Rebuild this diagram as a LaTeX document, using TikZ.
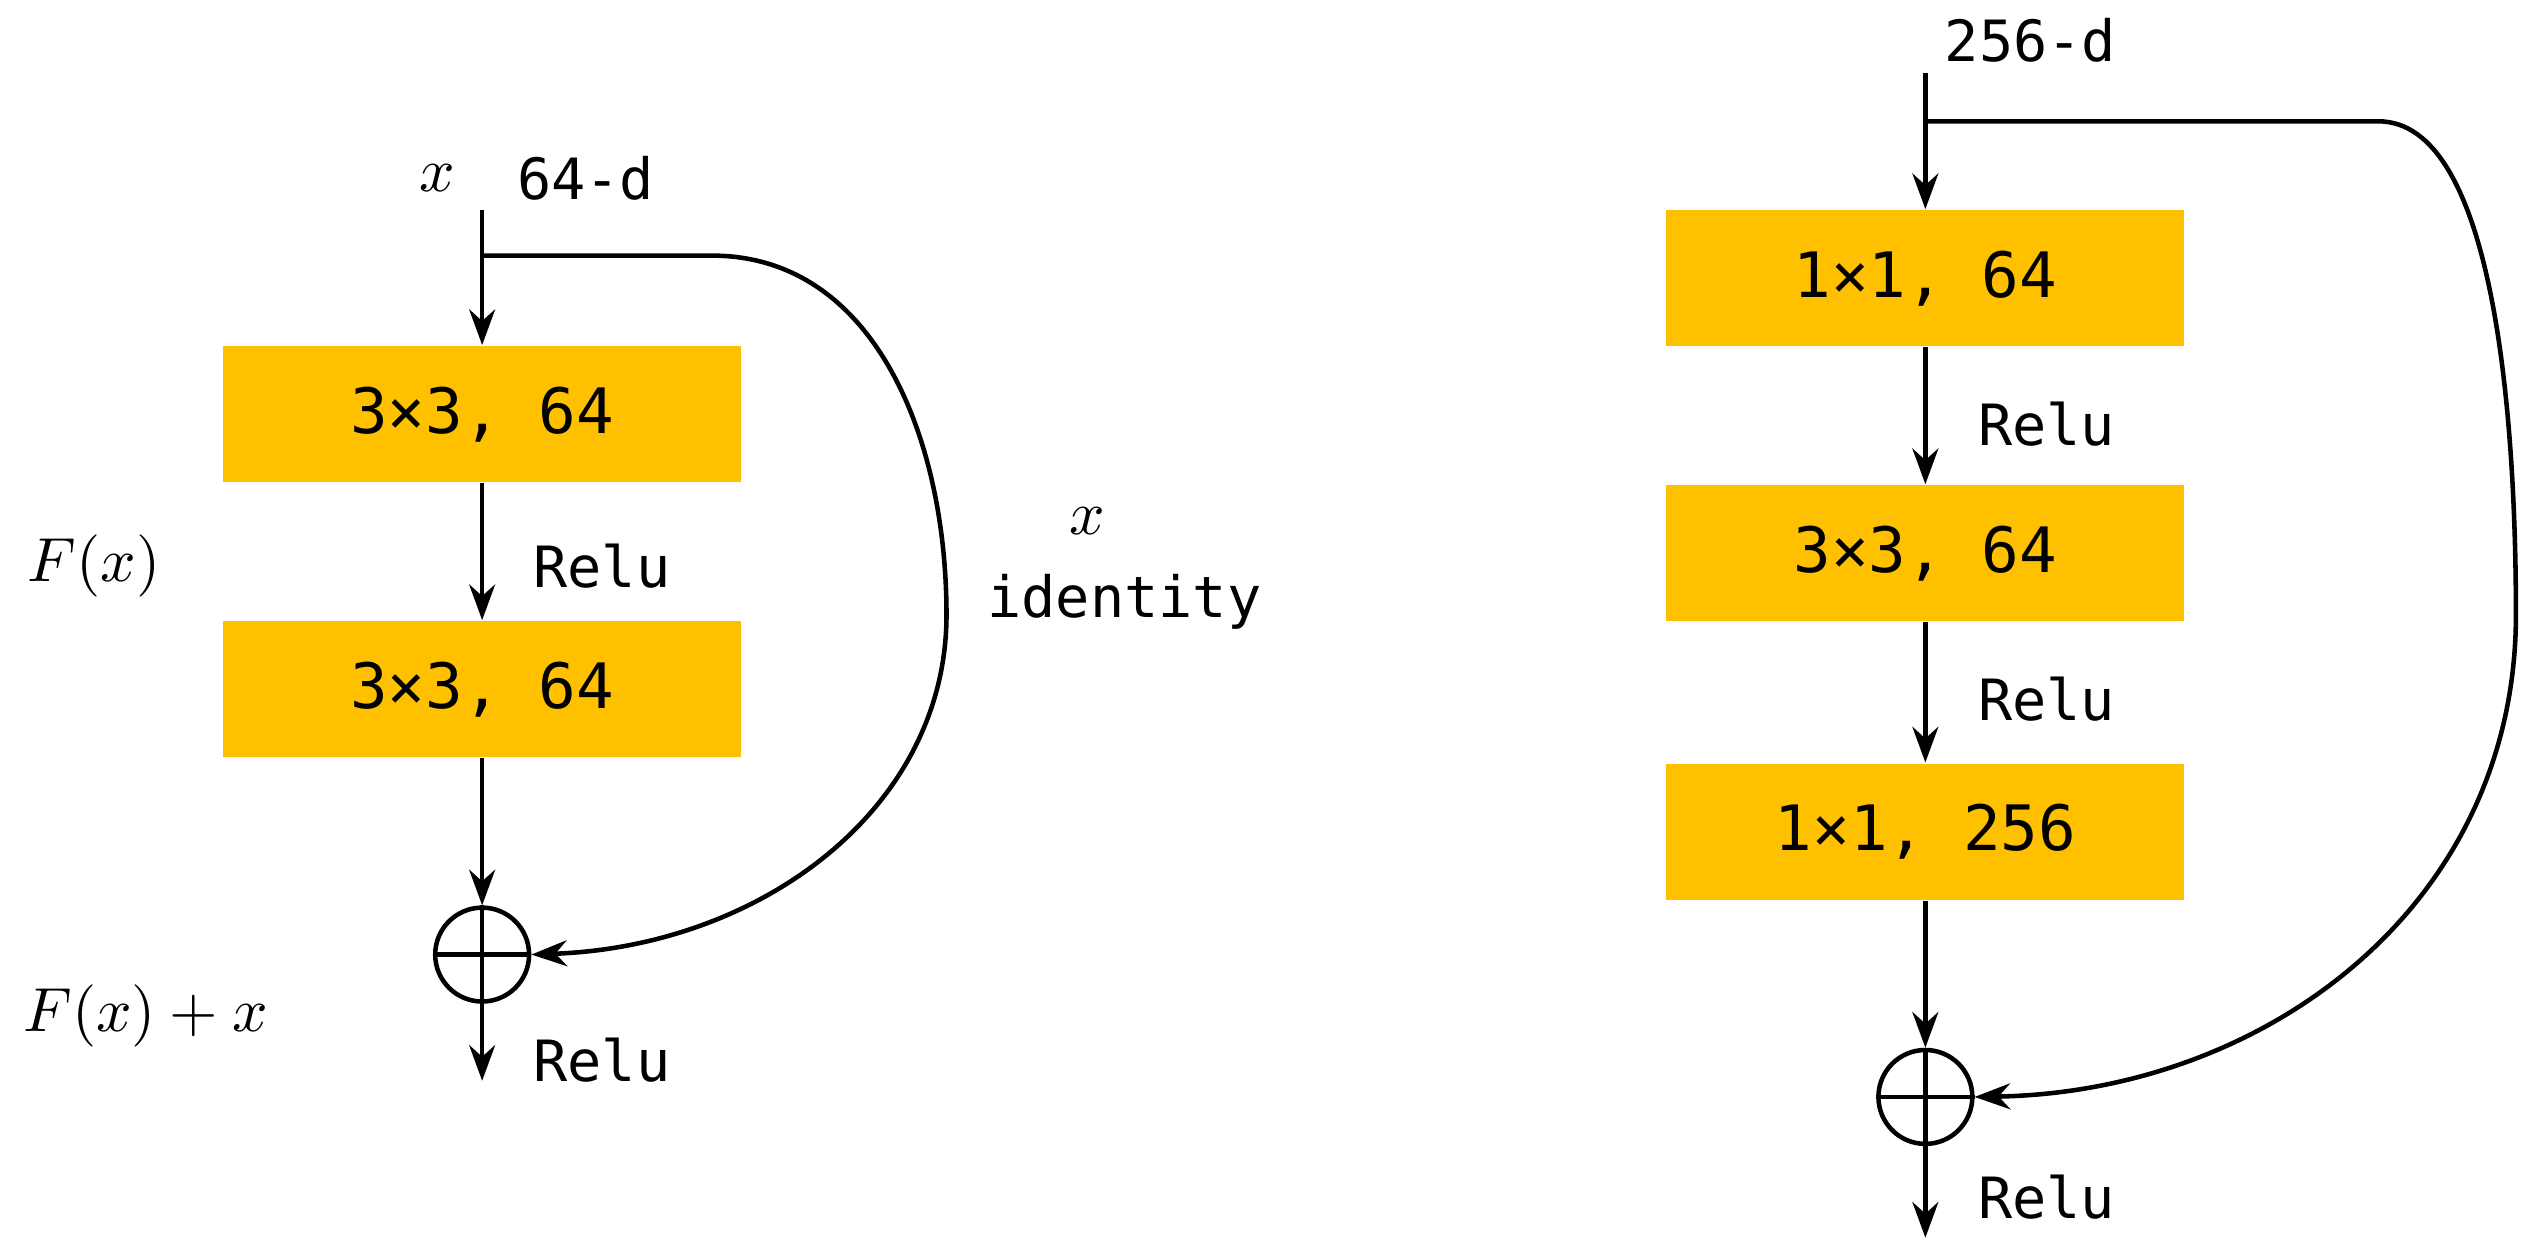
\documentclass[tikz,border=0pt]{standalone}
\usepackage{amsmath}
\usepackage{fontspec}
\setmainfont{DejaVu Sans Mono}
\usetikzlibrary{positioning,arrows.meta}
\definecolor{boxorange}{HTML}{FFC000}

\begin{document}
\begin{tikzpicture}[x=0.01cm,y=-0.01cm,font=\fontsize{10}{12}\selectfont,
    layer/.style={fill=boxorange, minimum width=3.2cm, minimum height=0.84cm, inner sep=0pt,
      font=\fontsize{11}{13}\selectfont},
    addop/.style={draw, thick, circle, minimum size=0.58cm, inner sep=0pt},
    lbl/.style={inner sep=1pt},
    mathlbl/.style={inner sep=1pt, font=\fontsize{11}{13}\selectfont},
    flow/.style={-{Stealth[length=2.2mm,width=1.6mm]}, thick}]
  \useasboundingbox (0,0) rectangle (1560,771);
  % Linke Seite
  \coordinate (lin) at (298,130);
  \coordinate (lsplit) at (298,158);
  \node[layer] (l1) at (298,256) {3×3, 64};
  \node[layer] (l2) at (298,426) {3×3, 64};
  \node[addop] (lsum) at (298,590) {};
  \draw[thick] (lsum.north) -- (lsum.south) (lsum.west) -- (lsum.east);
  \coordinate (lout) at (298,668);
  \node[mathlbl] (lx) at (270,110) {$x$};
  \node[lbl] (ld) at (362,110) {64-d};
  \node[lbl] (lr1) at (372,350) {Relu};
  \node[lbl] (lr2) at (372,655) {Relu};
  \node[mathlbl] (fx) at (58,350) {$F(x)$};
  \node[mathlbl] (fxx) at (90,628) {$F(x)+x$};
  \node[mathlbl] (idx) at (672,322) {$x$};
  \node[lbl] (idt) at (695,372) {identity};
  \draw[flow] (lin) -- (l1);
  \draw[flow] (l1) -- (l2);
  \draw[flow] (l2) -- (lsum);
  \draw[flow] (lsum) -- (lout);
  \draw[flow] (lsplit) -- (440,158) .. controls (540,158) and (585,270) .. (585,380)
    .. controls (585,500) and (470,585) .. (lsum.east);

  % Rechte Seite
  \coordinate (rin) at (1190,45);
  \coordinate (rsplit) at (1190,75);
  \node[layer] (r1) at (1190,172) {1×1, 64};
  \node[layer] (r2) at (1190,342) {3×3, 64};
  \node[layer] (r3) at (1190,514) {1×1, 256};
  \node[addop] (rsum) at (1190,678) {};
  \draw[thick] (rsum.north) -- (rsum.south) (rsum.west) -- (rsum.east);
  \coordinate (rout) at (1190,765);
  \node[lbl] (rd) at (1255,25) {256-d};
  \node[lbl] (rr1) at (1265,262) {Relu};
  \node[lbl] (rr2) at (1265,432) {Relu};
  \node[lbl] (rr3) at (1265,740) {Relu};
  \draw[flow] (rin) -- (r1);
  \draw[flow] (r1) -- (r2);
  \draw[flow] (r2) -- (r3);
  \draw[flow] (r3) -- (rsum);
  \draw[flow] (rsum) -- (rout);
  \draw[flow] (rsplit) -- (1470,75) .. controls (1540,75) and (1555,250) .. (1555,380)
    .. controls (1555,560) and (1400,675) .. (rsum.east);
\end{tikzpicture}
\end{document}
